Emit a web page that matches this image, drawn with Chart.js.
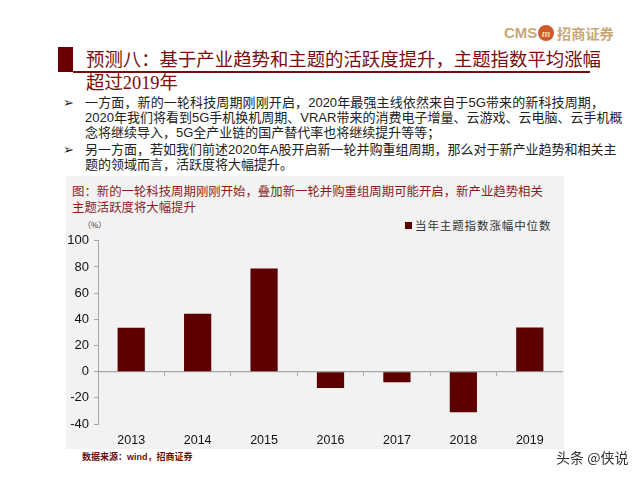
<!DOCTYPE html>
<html>
<head>
<meta charset="utf-8">
<script src="https://cdn.jsdelivr.net/npm/chart.js@4/dist/chart.umd.min.js"></script>
<style>
  html, body { margin: 0; padding: 0; background: #ffffff; }
  body { width: 640px; height: 480px; position: relative; overflow: hidden;
         font-family: "Liberation Sans", "Noto Sans CJK SC", sans-serif; }
  .abs { position: absolute; white-space: nowrap; }
  .line { position: absolute; white-space: nowrap; }
  .just { text-align: justify; text-align-last: justify; }
</style>
</head>
<body>
<script>
// ---- data ----
const categories = ["2013", "2014", "2015", "2016", "2017", "2018", "2019"];
const medianThemeGain = [33.5, 44.3, 78.8, -12.5, -8, -31, 33.8];
const seriesName = "当年主题指数涨幅中位数";
const yTickMin = -40;
const yTickMax = 100;
const yTickStep = 20;
</script>

<!-- logo -->
<div class="abs" style="left:504px; top:24px; font:bold 15px 'Liberation Sans'; color:#c9a878; line-height:18px;">CMS</div>
<div class="abs" style="left:538px; top:25px; width:16px; height:16px; border-radius:50%; background:#cf5a2a; color:#f3d7a0; font:italic bold 11px 'Liberation Serif'; line-height:16px; text-align:center;">m</div>
<div class="abs" style="left:557px; top:24px; font:bold 14.2px 'Noto Sans CJK SC'; color:#c9a878; line-height:18px;">招商证券</div>

<!-- title -->
<div class="abs" style="left:58px; top:47px; width:15px; height:25px; background:#6b0000;"></div>
<div class="abs" style="left:73px; top:71px; width:517px; height:1.5px; background:#7a0c0c;"></div>
<div class="line just" style="left:86px; top:49px; width:500px; font:18.4px 'Liberation Serif','Noto Sans CJK SC'; color:#7a0c0c; line-height:23px;">预测八：基于产业趋势和主题的活跃度提升，主题指数平均涨幅</div>
<div class="line" style="left:86px; top:72px; font:18.4px 'Liberation Serif','Noto Sans CJK SC'; color:#7a0c0c; line-height:23px;">超过2019年</div>

<!-- bullets -->
<div class="abs" style="left:63px; top:95px; font:13px 'DejaVu Sans'; color:#222; line-height:16px;">➢</div>
<div class="line just" style="left:85px; top:95px; width:519px; font:13px 'Liberation Sans','Noto Sans CJK SC'; color:#222; line-height:16px;">一方面，新的一轮科技周期刚刚开启，2020年最强主线依然来自于5G带来的新科技周期，</div>
<div class="line just" style="left:85px; top:110px; width:519px; font:13px 'Liberation Sans','Noto Sans CJK SC'; color:#222; line-height:16px;">2020年我们将看到5G手机换机周期、VRAR带来的消费电子增量、云游戏、云电脑、云手机概</div>
<div class="line" style="left:85px; top:125px; font:13px 'Liberation Sans','Noto Sans CJK SC'; color:#222; line-height:16px;">念将继续导入，5G全产业链的国产替代率也将继续提升等等；</div>
<div class="abs" style="left:63px; top:142px; font:13px 'DejaVu Sans'; color:#222; line-height:16px;">➢</div>
<div class="line just" style="left:85px; top:142px; width:519px; font:13px 'Liberation Sans','Noto Sans CJK SC'; color:#222; line-height:16px;">另一方面，若如我们前述2020年A股开启新一轮并购重组周期，那么对于新产业趋势和相关主</div>
<div class="line" style="left:85px; top:157px; font:13px 'Liberation Sans','Noto Sans CJK SC'; color:#222; line-height:16px;">题的领域而言，活跃度将大幅提升。</div>

<!-- chart panel -->
<div class="abs" style="left:66px; top:176px; width:498px; height:273px; background:#f2f2f2;"></div>
<div class="line" style="left:72px; top:183px; font:12.4px 'Noto Sans CJK SC'; color:#8b1c1c; line-height:16px;">图：新的一轮科技周期刚刚开始，叠加新一轮并购重组周期可能开启，新产业趋势相关</div>
<div class="line" style="left:72px; top:199px; font:12.4px 'Noto Sans CJK SC'; color:#8b1c1c; line-height:16px;">主题活跃度将大幅提升</div>
<div class="abs" style="left:83px; top:220px; font:8px 'Noto Sans CJK SC'; color:#333; line-height:10px;">（%）</div>
<div class="abs" style="left:405px; top:222px; width:7px; height:7px; background:#5f0000;"></div>
<div class="abs" id="legendText" style="left:415px; top:218px; font:11.5px 'Noto Sans CJK SC'; color:#333; line-height:15px; letter-spacing:0.9px;"></div>

<canvas id="c" width="503" height="222" style="position:absolute; left:60px; top:228px;"></canvas>

<!-- footer -->
<div class="abs" style="left:82px; top:451px; font:bold 9px 'Liberation Sans','Noto Sans CJK SC'; color:#6b1010; line-height:12px;">数据来源：wind，招商证券</div>
<div class="abs" style="left:556px; top:448px; font:14px 'Noto Sans CJK SC'; color:#333; line-height:18px;">头条 @侠说</div>

<script>
document.getElementById('legendText').textContent = seriesName;
const axisGrey = '#a6a6a6';
new Chart(document.getElementById('c'), {
  type: 'bar',
  data: {
    labels: categories,
    datasets: [{
      label: seriesName,
      data: medianThemeGain,
      backgroundColor: '#5f0000',
      borderWidth: 0,
      barPercentage: 0.41,
      categoryPercentage: 1.0,
      xAxisID: 'x',
      yAxisID: 'y'
    }]
  },
  options: {
    responsive: false,
    animation: false,
    layout: { padding: { top: 11, left: 0, right: 0, bottom: 0 } },
    plugins: { legend: { display: false }, tooltip: { enabled: false } },
    scales: {
      x: {
        type: 'category',
        position: { y: 0 },
        offset: true,
        grid: { display: true, offset: true, drawOnChartArea: false, drawTicks: true, tickLength: 4, color: axisGrey, lineWidth: 1 },
        border: { display: true, color: axisGrey, width: 1.3 },
        ticks: { display: false }
      },
      x2: {
        type: 'category',
        position: 'bottom',
        offset: true,
        labels: categories,
        grid: { display: false, drawTicks: false },
        border: { display: false },
        ticks: { color: '#111', font: { family: 'Liberation Sans', size: 12.5 }, padding: 9, maxRotation: 0, autoSkip: false },
        afterFit: (s) => { s.height = 26; }
      },
      y: {
        type: 'linear',
        position: 'left',
        min: yTickMin,
        max: yTickMax,
        ticks: { stepSize: yTickStep, color: '#111', font: { family: 'Liberation Sans', size: 13 }, padding: 5 },
        grid: { display: true, drawOnChartArea: false, drawTicks: true, tickLength: 4, color: axisGrey },
        border: { display: true, color: axisGrey, width: 1 },
        afterFit: (s) => { s.width = 38; }
      }
    }
  }
});
</script>
</body>
</html>
